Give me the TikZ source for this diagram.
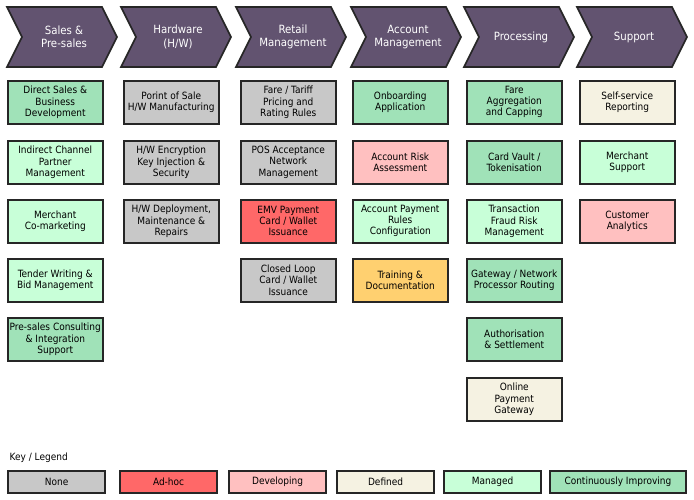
\documentclass[tikz,border=0pt]{standalone}
\usepackage{fontspec}
\setmainfont{DejaVu Sans Condensed}
\definecolor{cgray}{HTML}{C8C8C8}
\definecolor{cred}{HTML}{FF6868}
\definecolor{cpink}{HTML}{FFC0C0}
\definecolor{ccream}{HTML}{F5F2E2}
\definecolor{cmint}{HTML}{C8FFD8}
\definecolor{cgreen}{HTML}{A0E2B8}
\definecolor{corange}{HTML}{FFD070}
\definecolor{cpurple}{HTML}{625370}
\begin{document}
\begin{tikzpicture}[x=0.75pt,y=-0.75pt,
  box/.style={draw=black!85,line width=1.4pt,minimum width=71pt,minimum height=32pt,align=center,font=\fontsize{7.5}{8.3}\selectfont,inner sep=1pt,anchor=north west},
  none/.style={box,fill=cgray},
  adhoc/.style={box,fill=cred},
  dev/.style={box,fill=cpink},
  def/.style={box,fill=ccream},
  man/.style={box,fill=cmint},
  ci/.style={box,fill=cgreen},
  orng/.style={box,fill=corange},
  chev/.style={fill=cpurple,draw=black!85,line width=1.2pt},
  ctext/.style={text=white,align=center,font=\fontsize{8.5}{10}\selectfont}]
\useasboundingbox (0,0) rectangle (694,500);
% chevrons
\foreach \x/\t [count=\i] in {7/{Sales \&\\Pre-sales},121/{Hardware\\(H/W)},236/{Retail\\Management},351/{Account\\Management},464/{Processing},577/{Support}}{
  \path[chev] (\x,7) -- (\x+95,7) -- (\x+110,37) -- (\x+95,67) -- (\x,67) -- (\x+15,37) -- cycle;
  \node[ctext] (c\i) at (\x+57,37) {\t};
}
% column 1
\node[ci] (a1) at (7,80) {Direct Sales \&\\Business\\Development};
\node[man] (a2) at (7,140) {Indirect Channel\\Partner\\Management};
\node[man] (a3) at (7,199) {Merchant\\Co-marketing};
\node[man] (a4) at (7,258) {Tender Writing \&\\Bid Management};
\node[ci] (a5) at (7,317) {Pre-sales Consulting\\\& Integration\\Support};
% column 2
\node[none] (b1) at (123,80) {Porint of Sale\\H/W Manufacturing};
\node[none] (b2) at (123,140) {H/W Encryption\\Key Injection \&\\Security};
\node[none] (b3) at (123,199) {H/W Deployment,\\Maintenance \&\\Repairs};
% column 3
\node[none] (d1) at (240,80) {Fare / Tariff\\Pricing and\\Rating Rules};
\node[none] (d2) at (240,140) {POS Acceptance\\Network\\Management};
\node[adhoc] (d3) at (240,199) {EMV Payment\\Card / Wallet\\Issuance};
\node[none] (d4) at (240,258) {Closed Loop\\Card / Wallet\\Issuance};
% column 4
\node[ci] (e1) at (352,80) {Onboarding\\Application};
\node[dev] (e2) at (352,140) {Account Risk\\Assessment};
\node[man] (e3) at (352,199) {Account Payment\\Rules\\Configuration};
\node[orng] (e4) at (352,258) {Training \&\\Documentation};
% column 5
\node[ci] (f1) at (466,80) {Fare\\Aggregation\\and Capping};
\node[ci] (f2) at (466,140) {Card Vault /\\Tokenisation};
\node[man] (f3) at (466,199) {Transaction\\Fraud Risk\\Management};
\node[ci] (f4) at (466,258) {Gateway / Network\\Processor Routing};
\node[ci] (f5) at (466,317) {Authorisation\\\& Settlement};
\node[def] (f6) at (466,377) {Online\\Payment\\Gateway};
% column 6
\node[def] (g1) at (579,80) {Self-service\\Reporting};
\node[man] (g2) at (579,140) {Merchant\\Support};
\node[dev] (g3) at (579,199) {Customer\\Analytics};
% legend
\node[anchor=west,font=\fontsize{7.5}{8}\selectfont] (kt) at (5,458) {Key / Legend};
\tikzset{leg/.style={minimum height=16.5pt,minimum width=#1}}
\node[none,leg=73pt] (k1) at (7,470) {None};
\node[adhoc,leg=73pt] (k2) at (119,470) {Ad-hoc};
\node[dev,leg=73pt] (k3) at (228,470) {Developing};
\node[def,leg=73pt] (k4) at (336,470) {Defined};
\node[man,leg=73pt] (k5) at (443,470) {Managed};
\node[ci,leg=102pt] (k6) at (549,470) {Continuously Improving};
\end{tikzpicture}
\end{document}
